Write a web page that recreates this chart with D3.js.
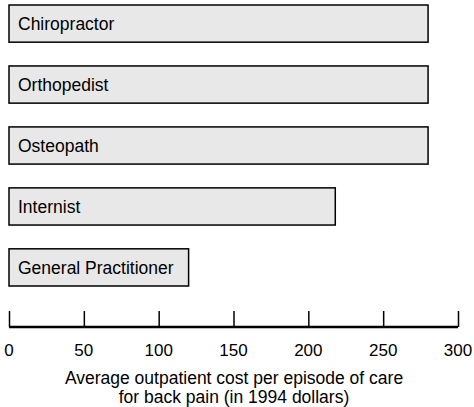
<!DOCTYPE html>
<html><head><meta charset="utf-8">
<script src="https://cdn.jsdelivr.net/npm/d3@7"></script>
<style>body{margin:0;background:#fff}</style>
</head><body><div id="chart"></div>
<script>
const categories = ['Chiropractor', 'Orthopedist', 'Osteopath', 'Internist', 'General Practitioner'];
const costs = [280, 280, 280, 218, 120];
const tickValues = [0, 50, 100, 150, 200, 250, 300];

const W = 474, H = 407;
const svg = d3.select('#chart').append('svg').attr('width', W).attr('height', H)
    .style('font-family', '"Liberation Sans", Arial, sans-serif');

const x = d3.scaleLinear().domain([0, 300]).range([9, 458]);
const y = d3.scaleBand().domain(categories).range([5, 286]).paddingInner(0.39).paddingOuter(0);

svg.selectAll('rect.bar').data(categories).join('rect')
    .attr('class', 'bar')
    .attr('x', x(0))
    .attr('y', d => y(d))
    .attr('width', (d, i) => x(costs[i]) - x(0))
    .attr('height', y.bandwidth())
    .attr('fill', '#e8e8e8')
    .attr('stroke', '#000')
    .attr('stroke-width', 1.5);

svg.selectAll('text.lab').data(categories).join('text')
    .attr('class', 'lab')
    .attr('x', x(0) + 9)
    .attr('y', d => y(d) + y.bandwidth() / 2)
    .attr('dy', '0.35em')
    .style('font-size', '17.5px')
    .text(d => d);

const axis = svg.append('g').attr('transform', 'translate(0,327)')
    .call(d3.axisTop(x).tickValues(tickValues).tickSize(16).tickFormat(''));
axis.select('.domain').attr('stroke-width', 2.5).attr('d', `M${x(0)},0H${x(300)}`);
axis.selectAll('.tick line').attr('stroke-width', 1.5);

svg.selectAll('text.tick').data(tickValues).join('text')
    .attr('class', 'tick')
    .attr('x', d => x(d))
    .attr('y', 356)
    .attr('text-anchor', 'middle')
    .style('font-size', '17px')
    .text(d => d);

svg.append('text').attr('x', 234).attr('y', 384).attr('text-anchor', 'middle')
    .style('font-size', '17.5px').text('Average outpatient cost per episode of care');
svg.append('text').attr('x', 234).attr('y', 403).attr('text-anchor', 'middle')
    .style('font-size', '17.5px').text('for back pain (in 1994 dollars)');
</script></body></html>
